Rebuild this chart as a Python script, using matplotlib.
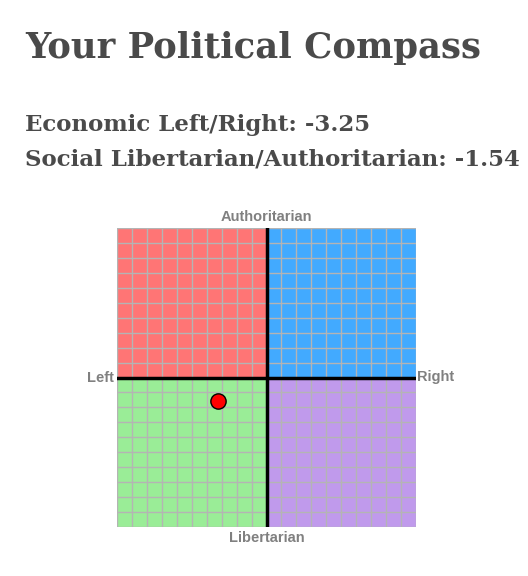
import matplotlib.pyplot as plt
import numpy as np

econ = -3.25
social = -1.54
quadrant_colors = ['#ff7575', '#42aaff', '#9aed97', '#c09aec']  # TL, TR, BL, BR
axis_labels = ['Authoritarian', 'Libertarian', 'Left', 'Right']

fig = plt.figure(figsize=(5.28, 5.76), dpi=100)
fig.text(25/528, 1 - 48/576, 'Your Political Compass', family='DejaVu Serif',
         weight='bold', fontsize=25.5, color='#4a4a4a', va='center')
fig.text(25/528, 1 - 125/576, f'Economic Left/Right: {econ:.2f}', family='DejaVu Serif',
         weight='bold', fontsize=16.5, color='#4a4a4a', va='center')
fig.text(25/528, 1 - 160/576, f'Social Libertarian/Authoritarian: {social:.2f}',
         family='DejaVu Serif', weight='bold', fontsize=16.5, color='#4a4a4a', va='center')

ax = fig.add_axes([117/528, 49/576, 299/528, 299/576])
ax.set_xlim(-10, 10)
ax.set_ylim(-10, 10)
ax.add_patch(plt.Rectangle((-10, 0), 10, 10, color=quadrant_colors[0], zorder=0))
ax.add_patch(plt.Rectangle((0, 0), 10, 10, color=quadrant_colors[1], zorder=0))
ax.add_patch(plt.Rectangle((-10, -10), 10, 10, color=quadrant_colors[2], zorder=0))
ax.add_patch(plt.Rectangle((0, -10), 10, 10, color=quadrant_colors[3], zorder=0))
for v in np.arange(-10, 11):
    ax.axvline(v, color='#b4b4b4', lw=1.0, zorder=1)
    ax.axhline(v, color='#b4b4b4', lw=1.0, zorder=1)
ax.axvline(0, color='black', lw=2.5, zorder=2)
ax.axhline(0, color='black', lw=2.5, zorder=2)
ax.plot(econ, social, 'o', ms=11, mfc='red', mec='black', mew=1, zorder=3)
ax.set_xticks([])
ax.set_yticks([])
for s in ax.spines.values():
    s.set_visible(False)

kw = dict(color='#808080', weight='bold', fontsize=10.5, family='Liberation Sans')
ax.text(0, 10.3, axis_labels[0], ha='center', va='bottom', **kw)
ax.text(0, -10.3, axis_labels[1], ha='center', va='top', **kw)
ax.text(-10.2, 0, axis_labels[2], ha='right', va='center', **kw)
ax.text(10.1, 0, axis_labels[3], ha='left', va='center', **kw)

fig.savefig('out.png', dpi=100)
